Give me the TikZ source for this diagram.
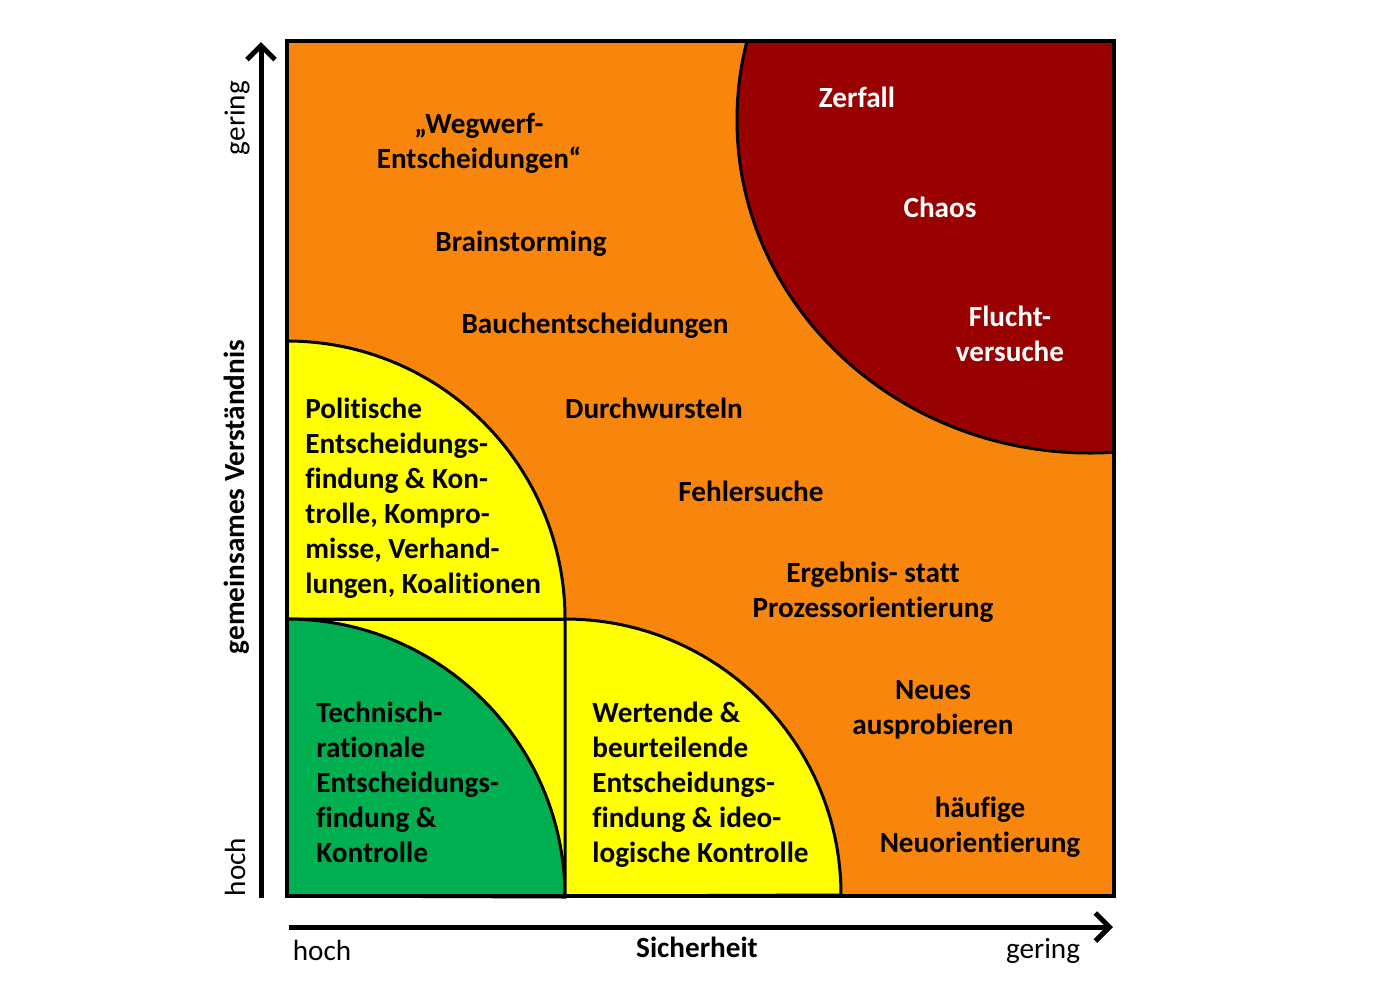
\documentclass[tikz,border=0pt]{standalone}
\usepackage{fontspec}
\setmainfont{Carlito}[Ligatures=NoCommon]
\usetikzlibrary{arrows.meta}
\definecolor{orng}{RGB}{248,134,12}
\definecolor{dkred}{RGB}{153,0,0}
\definecolor{ylw}{RGB}{255,255,0}
\definecolor{grn}{RGB}{0,176,80}

\begin{document}
\begin{tikzpicture}[x=0.5pt, y=-0.5pt,
  lbl/.style={font=\fontsize{14.6}{17.5}\selectfont\bfseries, align=center, inner sep=0pt},
  lbll/.style={lbl, align=left, anchor=north west},
  wlbl/.style={lbl, text=white},
  axtxt/.style={font=\fontsize{14.6}{17}\selectfont, inner sep=0pt},
  ax/.style={line width=2.5pt, -{Straight Barb[length=7pt, width=14pt]}},
  edge/.style={draw=black, line width=1.5pt}]
\useasboundingbox (0,0) rectangle (1378,987);
\fill[orng] (287,41) rectangle (1114,896);
\begin{scope}
  \clip (287,41) rectangle (1114,896);
  \filldraw[fill=dkred, edge] (1090,120) ellipse [x radius=353, y radius=333];
\end{scope}
\filldraw[fill=ylw, edge] (287,619) -- (287,341) arc[start angle=270, end angle=360, radius=278] -- cycle;
\filldraw[fill=ylw, edge] (287,619) rectangle (565,896);
\filldraw[fill=grn, edge] (287,896) -- (287,619) arc[start angle=270, end angle=360, radius=278] -- cycle;
\filldraw[fill=ylw, edge] (565,896) -- (565,619) arc[start angle=270, end angle=360, radius=276] -- cycle;
\draw[line width=2.2pt] (287,41) rectangle (1114,896);

\node[lbl] (wegwerf) at (479,143) {„Wegwerf-\\Entscheidungen“};
\node[lbl] (brain) at (521,244) {Brainstorming};
\node[lbl] (bauch) at (595,326) {Bauchentscheidungen};
\node[lbl] (durch) at (654,408) {Durchwursteln};
\node[lbl] (fehler) at (751,491) {Fehlersuche};
\node[lbl] (ergebnis) at (873,592) {Ergebnis- statt\\Prozessorientierung};
\node[lbl] (neues) at (933,710) {Neues\\ausprobieren};
\node[lbl] (haeufig) at (980,827) {häufige\\Neuorientierung};
\node[wlbl] (zerfall) at (857,97) {Zerfall};
\node[wlbl] (chaos) at (940,207) {Chaos};
\node[wlbl] (flucht) at (1010,334) {Flucht-\\versuche};
\node[lbll] (politik) at (305,398) {Politische\\Entscheidungs-\\findung \& Kon-\\trolle, Kompro-\\misse, Verhand-\\lungen, Koalitionen};
\node[lbll] (technik) at (316,702) {Technisch-\\rationale\\Entscheidungs-\\findung \&\\Kontrolle};
\node[lbll] (wertend) at (592,702) {Wertende \&\\beurteilende\\Entscheidungs-\\findung \& ideo-\\logische Kontrolle};

\coordinate (yfoot) at (261,898);
\coordinate (ytip) at (261,42);
\coordinate (xfoot) at (289,927);
\coordinate (xtip) at (1113,927);
\draw[ax] (yfoot) -- (ytip);
\draw[ax] (xfoot) -- (xtip);
\node[axtxt, rotate=90] (ygering) at (237,118) {gering};
\node[axtxt, rotate=90, font=\fontsize{14.6}{17}\selectfont\bfseries] (ylabel) at (237,497) {gemeinsames Verständnis};
\node[axtxt, rotate=90] (yhoch) at (235,867) {hoch};
\node[axtxt] (xhoch) at (322,950) {hoch};
\node[axtxt, font=\fontsize{14.6}{17}\selectfont\bfseries] (xlabel) at (697,947) {Sicherheit};
\node[axtxt] (xgering) at (1043,951) {gering};
\end{tikzpicture}
\end{document}
